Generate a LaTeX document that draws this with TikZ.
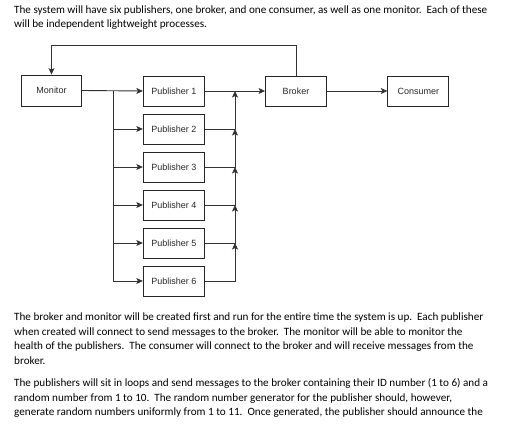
\documentclass[tikz,border=0pt]{standalone}
\usepackage{fontspec}
\setmainfont{Carlito}
\newfontfamily\arialf{Liberation Sans}
\usetikzlibrary{arrows.meta}
\begin{document}
\begin{tikzpicture}[x=1pt,y=-1pt,
  box/.style={draw=black!85, line width=0.9pt, minimum width=61pt, minimum height=30pt, inner sep=0pt, font=\arialf\fontsize{9}{10}\selectfont, text=black!85},
  conn/.style={draw=black!80, line width=0.9pt, -{Stealth[length=6.5pt,width=6pt,inset=1.5pt]}},
  para/.style={anchor=base west, inner sep=0pt, font=\fontsize{11.15}{14}\selectfont}]
\useasboundingbox (0,0) rectangle (512,441);

% text
\node[para] (t1) at (14,13.5) {The system will have six publishers, one broker, and one consumer, as well as one monitor.\ \ Each of these};
\node[para] (t2) at (14,27.7) {will be independent lightweight processes.};

\node[para] (t3) at (14,320.7) {The broker and monitor will be created first and run for the entire time the system is up.\ \ Each publisher};
\node[para] (t4) at (14,335.1) {when created will connect to send messages to the broker.\ \ The monitor will be able to monitor the};
\node[para] (t5) at (14,349.5) {health of the publishers.\ \ The consumer will connect to the broker and will receive messages from the};
\node[para] (t6) at (14,364) {broker.};
\node[para] (t7) at (14,386.7) {The publishers will sit in loops and send messages to the broker containing their ID number (1 to 6) and a};
\node[para] (t8) at (14,401.1) {random number from 1 to 10.\ \ The random number generator for the publisher should, however,};
\node[para] (t9) at (14,415.5) {generate random numbers uniformly from 1 to 11.\ \ Once generated, the publisher should announce the};

% boxes
\node[box, minimum width=60.4pt, minimum height=31pt] (mon) at (51.5,90.5) {Monitor};
\foreach \i in {1,...,6}{
  \node[box] (p\i) at (173.8,{91+38*(\i-1)}) {Publisher \i};
  \coordinate (r\i) at (235,{91+38*(\i-1)});
}
\node[box] (broker) at (296,91) {Broker};
\node[box] (cons) at (418.3,91) {Consumer};

\coordinate (lb) at (113.3,91);
\coordinate (topy) at (0,45.7);

% connectors
\draw[conn] (mon.east) -- (p1.west);
\foreach \i in {2,...,6}{
  \draw[conn] (lb) |- (p\i.west);
}
\draw[conn] (p1.east) -- (broker.west);
\draw[conn] (p2.east) -| (r1);
\draw[conn] (p3.east) -| (r2);
\draw[conn] (p4.east) -| (r3);
\draw[conn] (p5.east) -| (r4);
\draw[conn] (p6.east) -| (r5);
\draw[conn] (broker.east) -- (cons.west);
\draw[conn] (broker.north) -- (broker.north |- topy) -- (mon.north |- topy) -- (mon.north);
\end{tikzpicture}
\end{document}
